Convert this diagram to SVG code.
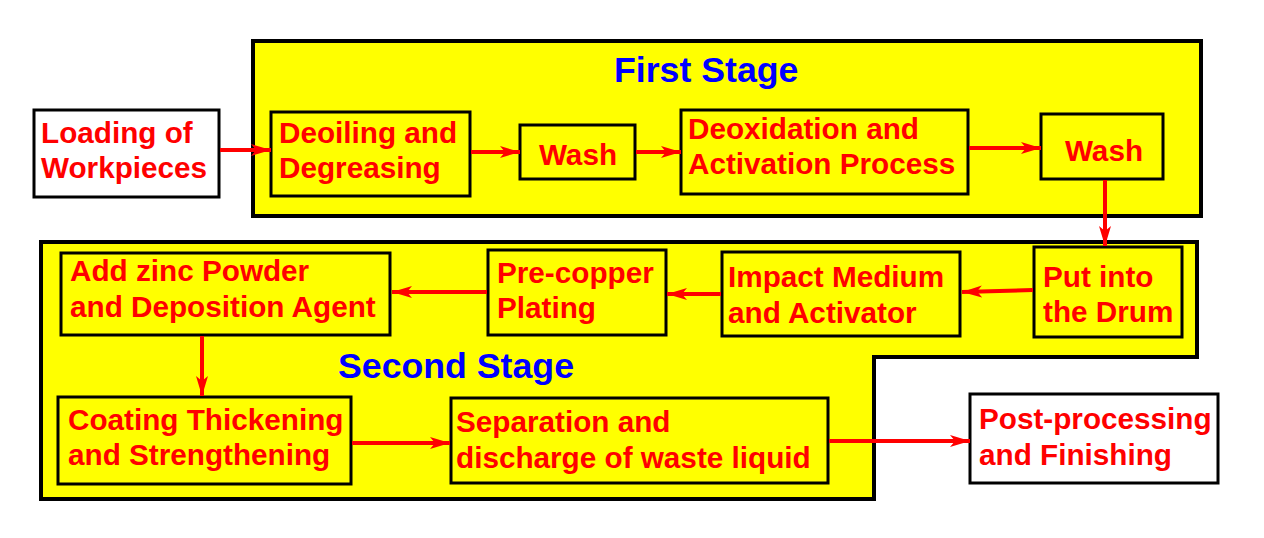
<svg xmlns="http://www.w3.org/2000/svg" width="1264" height="538" viewBox="0 0 1264 538">
<style>
.stage{fill:#FFFF00;stroke:#000;stroke-width:4}
.box{fill:#FFFF00;stroke:#000;stroke-width:3}
.wbox{fill:#FFFFFF;stroke:#000;stroke-width:3}
.t{font-family:"Liberation Sans",Arial,sans-serif;font-weight:bold;font-size:29.7px;fill:#FF0000}
.title{font-family:"Liberation Sans",Arial,sans-serif;font-weight:bold;font-size:35.7px;fill:#0000FF}
.c{stroke:#FF0000;stroke-width:4;fill:none;marker-end:url(#ah)}
</style>
<defs>
<marker id="ah" markerUnits="userSpaceOnUse" markerWidth="22" markerHeight="14" refX="20" refY="7" orient="auto">
<path d="M0,1 L20,7 L0,13 L5,7 z" fill="#FF0000"/>
</marker>
</defs>
<g id="first-stage">
<rect class="stage" x="253" y="41" width="948" height="175"/>
<text class="title" x="614" y="82">First Stage</text>
</g>
<g id="second-stage">
<path class="stage" d="M41,242 L1197,242 L1197,357 L874,357 L874,499 L41,499 Z"/>
<text class="title" x="338" y="378">Second Stage</text>
</g>
<g id="loading">
<rect class="wbox" x="34" y="110" width="185" height="87"/>
<text class="t" x="41" y="143">Loading of</text>
<text class="t" x="41" y="178">Workpieces</text>
</g>
<g id="deoiling">
<rect class="box" x="271" y="112" width="199" height="84"/>
<text class="t" x="279" y="143">Deoiling and</text>
<text class="t" x="279" y="178">Degreasing</text>
</g>
<g id="wash1">
<rect class="box" x="520" y="125" width="115" height="54"/>
<text class="t" x="578" y="165" text-anchor="middle">Wash</text>
</g>
<g id="deoxidation">
<rect class="box" x="681" y="110" width="287" height="84"/>
<text class="t" x="688" y="139">Deoxidation and</text>
<text class="t" x="688" y="174">Activation Process</text>
</g>
<g id="wash2">
<rect class="box" x="1041" y="114" width="122" height="65"/>
<text class="t" x="1104" y="161" text-anchor="middle">Wash</text>
</g>
<g id="drum">
<rect class="box" x="1034" y="247" width="148" height="90"/>
<text class="t" x="1043" y="287">Put into</text>
<text class="t" x="1043" y="322">the Drum</text>
</g>
<g id="impact">
<rect class="box" x="722" y="252" width="238" height="84"/>
<text class="t" x="728" y="287">Impact Medium</text>
<text class="t" x="728" y="323">and Activator</text>
</g>
<g id="precopper">
<rect class="box" x="488" y="250" width="178" height="85"/>
<text class="t" x="497" y="283">Pre-copper</text>
<text class="t" x="497" y="318">Plating</text>
</g>
<g id="zinc">
<rect class="box" x="61" y="253" width="329" height="82"/>
<text class="t" x="70" y="281">Add zinc Powder</text>
<text class="t" x="70" y="317">and Deposition Agent</text>
</g>
<g id="coating">
<rect class="box" x="58" y="397" width="293" height="87"/>
<text class="t" x="68" y="430">Coating Thickening</text>
<text class="t" x="68" y="465">and Strengthening</text>
</g>
<g id="separation">
<rect class="box" x="451" y="398" width="377" height="85"/>
<text class="t" x="456" y="432">Separation and</text>
<text class="t" x="456" y="468">discharge of waste liquid</text>
</g>
<g id="post">
<rect class="wbox" x="970" y="394" width="248" height="89"/>
<text class="t" x="979" y="429">Post-processing</text>
<text class="t" x="979" y="465">and Finishing</text>
</g>
<g id="connectors">
<line class="c" x1="220" y1="150" x2="271" y2="150"/>
<line class="c" x1="471" y1="152" x2="520" y2="152"/>
<line class="c" x1="636" y1="152" x2="681" y2="152"/>
<line class="c" x1="969" y1="148" x2="1041" y2="148"/>
<line class="c" x1="1105" y1="180" x2="1105" y2="246"/>
<line class="c" x1="1033" y1="290" x2="962" y2="292"/>
<line class="c" x1="721" y1="294" x2="667" y2="294"/>
<line class="c" x1="487" y1="292" x2="392" y2="292"/>
<line class="c" x1="202" y1="336" x2="202" y2="396"/>
<line class="c" x1="352" y1="443" x2="450" y2="443"/>
<line class="c" x1="829" y1="441" x2="970" y2="441"/>
</g>
</svg>
